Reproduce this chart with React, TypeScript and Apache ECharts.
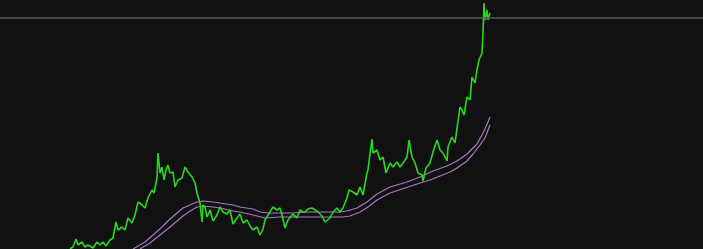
import React, { useEffect, useRef } from "react";
import * as echarts from "echarts";

// Price trace (x = bar position, value = price level)
const priceX = [70,73,76,78,82,85,88,93,97,100,103,106,110,113,116,118,122,125,128,132,135,138,142,145,148,152,154,157,158,160,162,164,166,168,170,173,175,178,182,185,188,192,195,197,200,202,203,205,207,210,213,217,220,223,227,230,233,237,240,243,247,250,253,257,260,263,265,268,273,277,280,283,285,288,293,297,300,303,305,308,312,317,322,325,330,333,337,340,343,347,349,353,357,360,363,367,368,370,372,373,377,380,383,386,390,393,397,400,403,407,409,412,415,418,422,423,426,430,433,437,440,443,447,448,452,455,458,460,462,464,467,470,472,475,477,479,482,483,484,485,487,488,490];
const priceY = [0,2,10,4,7,2,4,1,7,4,7,3,9,11,27,19,22,19,31,26,34,47,44,41,51,59,56,71,96,76,82,69,79,84,76,77,62,69,71,82,77,72,66,56,46,27,44,42,32,39,28,34,42,37,35,39,25,31,35,26,29,23,19,22,14,20,29,34,42,39,41,30,21,29,35,31,39,37,37,40,41,38,33,27,31,37,41,37,41,51,59,57,54,62,54,76,79,96,110,96,99,89,92,76,86,82,87,82,86,92,109,92,86,76,74,68,81,86,97,109,99,96,88,102,112,106,128,142,139,134,152,149,172,166,179,189,196,216,246,229,239,229,236];

// Upper moving-average band line
const upperX = [133,145,153,162,170,177,183,190,197,203,213,220,233,240,253,260,268,280,293,307,327,340,347,357,367,377,390,407,420,433,447,457,467,477,483,488,490];
const upperY = [0,7,14,22,30,36,41,44,47,48,47,46,44,42,40,37,36,36,36,37,37,37,38,41,47,55,62,67,72,78,83,88,95,105,116,127,132];

// Lower moving-average band line
const lowerX = [140,150,160,170,177,183,190,197,203,213,220,233,240,253,265,280,293,310,327,343,350,360,368,377,390,405,417,430,440,450,457,467,473,480,485,490];
const lowerY = [0,6,14,22,28,33,38,42,43,42,41,38,37,34,31,32,32,32,32,32,33,37,42,49,56,61,65,69,73,77,81,88,95,104,111,124];

// Horizontal level line
const levelValue = 231;

const zip = (xs: number[], ys: number[]) => xs.map((x, i) => [x, ys[i]]);

export default function App() {
  const ref = useRef<HTMLDivElement>(null);
  useEffect(() => {
    if (!ref.current) return;
    const chart = echarts.init(ref.current, undefined, { renderer: "svg" });
    chart.setOption({
      animation: false,
      backgroundColor: "#111111",
      grid: { left: 0, right: 0, top: 0, bottom: 0 },
      xAxis: { type: "value", min: 0, max: 703, show: false },
      yAxis: { type: "value", min: 0, max: 249, show: false },
      series: [
        {
          type: "line",
          data: zip(upperX, upperY),
          showSymbol: false,
          lineStyle: { color: "#a878c4", width: 1.2 },
          silent: true,
        },
        {
          type: "line",
          data: zip(lowerX, lowerY),
          showSymbol: false,
          lineStyle: { color: "#a878c4", width: 1.2 },
          silent: true,
        },
        {
          type: "line",
          data: zip(priceX, priceY),
          showSymbol: false,
          lineStyle: { color: "#28d81e", width: 1.6 },
          silent: true,
          markLine: {
            silent: true,
            symbol: ["none", "none"],
            label: { show: false },
            lineStyle: { color: "#5a5a5a", width: 1.5, type: "solid" },
            data: [{ yAxis: levelValue }],
          },
        },
      ],
    });
    return () => chart.dispose();
  }, []);
  return (
    <div
      ref={ref}
      style={{ position: "fixed", left: 0, top: 0, width: 703, height: 249 }}
    />
  );
}
